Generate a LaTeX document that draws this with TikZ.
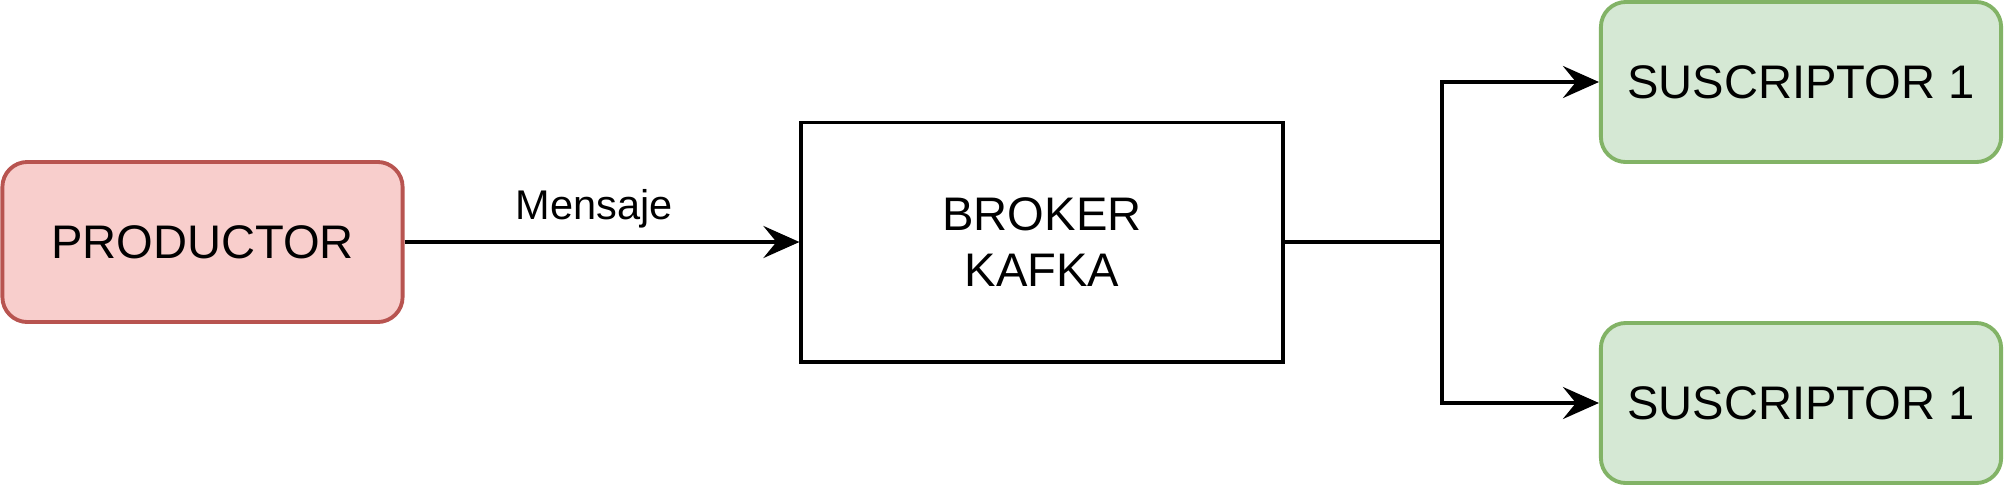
\documentclass[tikz,border=0pt]{standalone}
\usepackage{fontspec}
\setmainfont{Liberation Sans}
\usepackage{tikz}
\usetikzlibrary{arrows.meta}

\definecolor{prodfill}{HTML}{F8CECC}
\definecolor{proddraw}{HTML}{B85450}
\definecolor{subfill}{HTML}{D5E8D4}
\definecolor{subdraw}{HTML}{82B366}

\begin{document}
\begin{tikzpicture}[x=0.01cm,y=0.01cm,
  caja/.style={draw,line width=1.1pt,align=center,font=\fontsize{13.4}{16}\selectfont},
  redondo/.style={caja,rounded corners=0.25cm,minimum width=4cm,minimum height=1.6cm},
  flecha/.style={line width=1.1pt,-{Stealth[length=3.6mm,width=3.2mm,inset=1.3mm]}}]

\useasboundingbox (0,0) rectangle (2004,484);

\node [redondo,fill=prodfill,draw=proddraw] (prod) at (202.5,242) {PRODUCTOR};
\node [caja,minimum width=4.81cm,minimum height=2.39cm] (broker) at (1042,242) {BROKER\\KAFKA};
\node [redondo,fill=subfill,draw=subdraw] (sub1) at (1801,402) {SUSCRIPTOR 1};
\node [redondo,fill=subfill,draw=subdraw] (sub2) at (1801,81) {SUSCRIPTOR 1};
\coordinate (split) at (1441.6,242);

\draw [flecha] (prod) -- node[above,pos=0.48,font=\fontsize{11.8}{14}\selectfont] {Mensaje} (broker);
\draw [flecha] (broker.east) -- (split) |- (sub1.west);
\draw [flecha] (split) |- (sub2.west);
\end{tikzpicture}
\end{document}
